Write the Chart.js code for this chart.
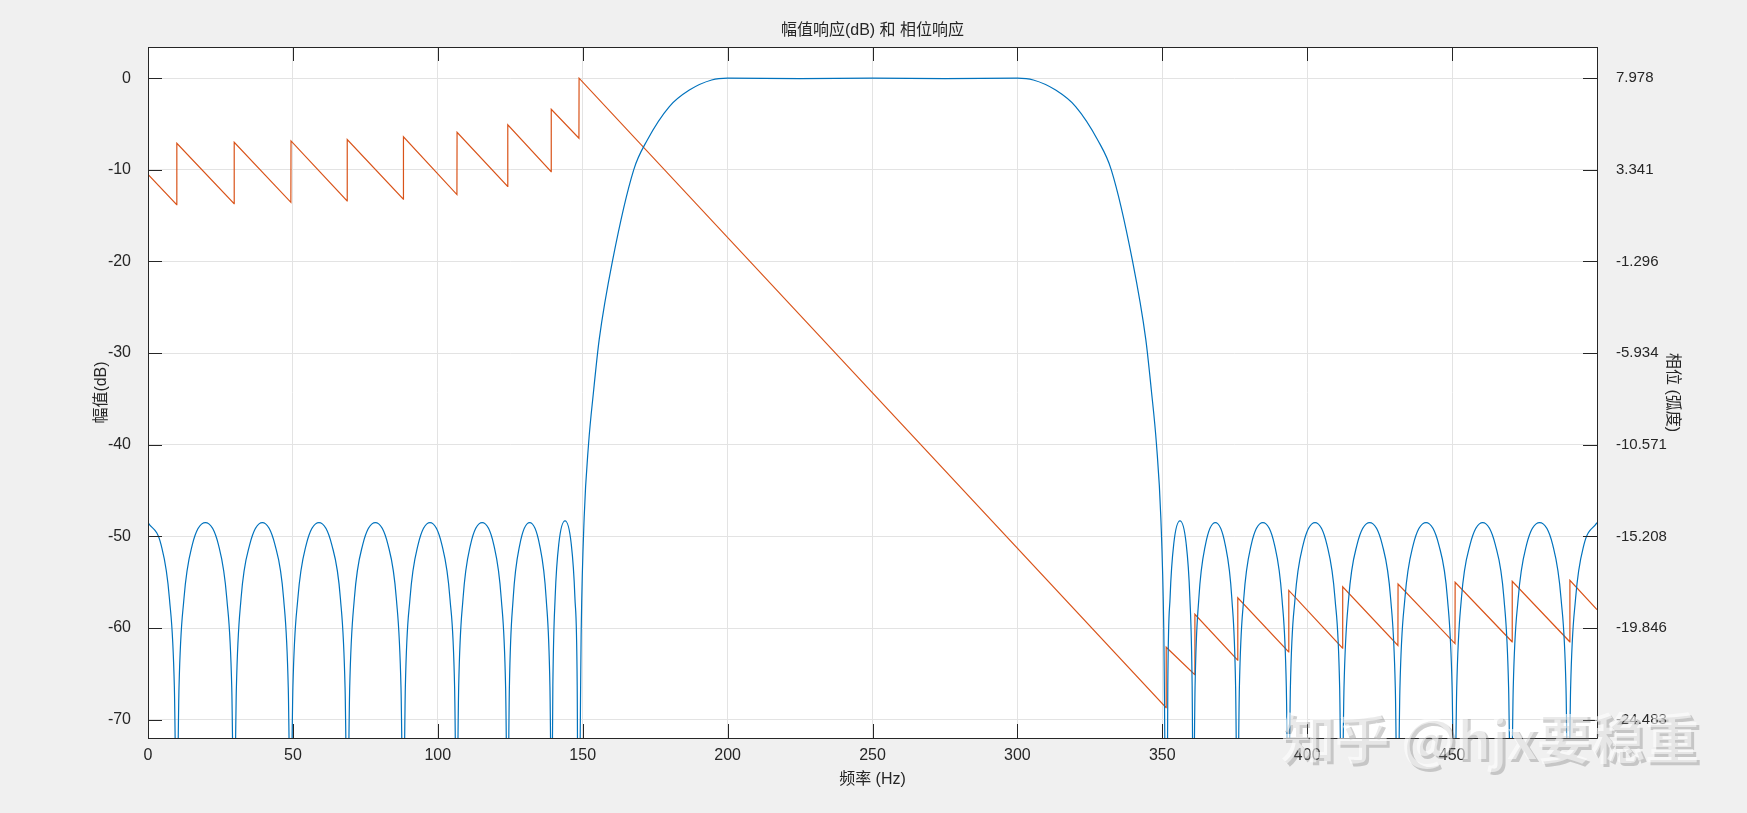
<!DOCTYPE html>
<html>
<head>
<meta charset="utf-8">
<script src="https://cdn.jsdelivr.net/npm/chart.js@4/dist/chart.umd.min.js"></script>
<style>
  html, body { margin: 0; padding: 0; background: #f0f0f0; }
</style>
</head>
<body>
<canvas id="myChart" width="1747" height="813"></canvas>
<script>
// magnitude response (dB); low values mark nulls (clipped)
const magFreq = [
  0, 4.5, 7.4, 9.1, 9.9,
  10.7, 12.4, 15.3, 19.8, 24.3, 27.2, 28.9, 29.7,
  30.5, 32.1, 35.1, 39.45, 43.8, 46.8, 48.4, 49.2,
  50.0, 51.7, 54.6, 59, 63.4, 66.4, 68.0, 68.8,
  69.6, 71.2, 74.1, 78.45, 82.8, 85.7, 87.3, 88.1,
  88.8, 90.4, 93.2, 97.3, 101.4, 104.2, 105.8, 106.5,
  107.2, 108.7, 111.3, 115.3, 119.3, 121.9, 123.4, 124.1,
  124.7, 126.0, 128.3, 131.7, 135.1, 137.4, 138.7, 139.3,
  139.7, 140.5, 141.8, 143.9, 146.0, 147.3, 148.1, 148.5,
  149.5, 150.5, 152, 153.8, 155.7, 160.3, 167.6, 172.2, 179.9, 186.8, 194.5, 200,
  225, 250, 275,
  300, 305.5, 313.2, 320.1, 327.8, 332.4, 339.7, 344.3, 346.2, 348, 349.5, 350.5, 351.5,
  351.9, 352.7, 354.0, 356.1, 358.2, 359.5, 360.3, 360.7,
  361.3, 362.6, 364.9, 368.3, 371.7, 374.0, 375.3, 375.9,
  376.6, 378.1, 380.7, 384.7, 388.7, 391.3, 392.8, 393.5,
  394.2, 395.8, 398.6, 402.7, 406.8, 409.6, 411.2, 411.9,
  412.7, 414.3, 417.2, 421.55, 425.9, 428.8, 430.4, 431.2,
  432.0, 433.7, 436.6, 441, 445.4, 448.4, 450.0, 450.8,
  451.6, 453.2, 456.2, 460.55, 464.9, 467.9, 469.5, 470.3,
  471.1, 472.8, 475.7, 480.2, 484.7, 487.6, 489.3, 490.1,
  490.9, 492.6, 495.5, 500
];
const magDb = [
  -48.5, -50.9, -56.8, -66.5, -82,
  -66.5, -56.8, -50.9, -48.5, -50.9, -56.8, -66.5, -82,
  -66.5, -56.8, -50.9, -48.5, -50.9, -56.8, -66.5, -82,
  -66.5, -56.8, -50.9, -48.5, -50.9, -56.8, -66.5, -82,
  -66.5, -56.8, -50.9, -48.5, -50.9, -56.8, -66.5, -82,
  -66.5, -56.8, -50.9, -48.5, -50.9, -56.8, -66.5, -82,
  -66.5, -56.8, -50.9, -48.5, -50.9, -56.8, -66.5, -82,
  -66.5, -56.8, -50.9, -48.5, -50.9, -56.8, -66.5, -82,
  -66.3, -56.6, -50.7, -48.3, -50.7, -56.6, -66.3, -90,
  -60, -48, -40, -34, -28.5, -19.9, -10, -6.8, -3.1, -1.3, -0.2, 0,
  -0.05, 0, -0.05,
  0, -0.2, -1.3, -3.1, -6.8, -10, -19.9, -28.5, -34, -40, -48, -60, -90,
  -66.3, -56.6, -50.7, -48.3, -50.7, -56.6, -66.3, -82,
  -66.5, -56.8, -50.9, -48.5, -50.9, -56.8, -66.5, -82,
  -66.5, -56.8, -50.9, -48.5, -50.9, -56.8, -66.5, -82,
  -66.5, -56.8, -50.9, -48.5, -50.9, -56.8, -66.5, -82,
  -66.5, -56.8, -50.9, -48.5, -50.9, -56.8, -66.5, -82,
  -66.5, -56.8, -50.9, -48.5, -50.9, -56.8, -66.5, -82,
  -66.5, -56.8, -50.9, -48.5, -50.9, -56.8, -66.5, -82,
  -66.5, -56.8, -50.9, -48.5, -50.9, -56.8, -66.5, -82,
  -66.5, -56.8, -50.9, -48.5
];

// phase response (rad)
const phaseFreq = [
  0, 9.9, 9.95, 29.7, 29.75, 49.3, 49.35, 68.7, 68.75, 88.1, 88.15,
  106.6, 106.65, 124.1, 124.15, 139.1, 139.15, 148.7, 148.75,
  351.3, 351.35, 361.2, 361.25, 376.0, 376.05, 393.6, 393.65, 412.2, 412.25,
  431.3, 431.35, 451.0, 451.05, 470.7, 470.75, 490.6, 490.65, 500
];
const phaseRad = [
  3.109, 1.578, 4.685, 1.625, 4.732, 1.694, 4.801, 1.764, 4.871, 1.857, 5.010,
  2.088, 5.242, 2.506, 5.613, 3.248, 6.401, 4.941, 7.978,
  -23.881, -20.820, -22.211, -19.151, -21.470, -18.316, -21.052, -17.945, -20.867, -17.760,
  -20.728, -17.621, -20.635, -17.528, -20.542, -17.481, -20.542, -17.435, -18.919
];

const xTicks = [0, 50, 100, 150, 200, 250, 300, 350, 400, 450];
const dbTicks = [-70, -60, -50, -40, -30, -20, -10, 0];
const radTicks = [-24.483, -19.846, -15.208, -10.571, -5.934, -1.296, 3.341, 7.978];

const FONT = 'Arial, "Liberation Sans", "Noto Sans CJK SC", sans-serif';
const TICK_FONT = { family: FONT, size: 16 };

const matlabFrame = {
  id: 'matlabFrame',
  beforeDraw(chart) {
    const { ctx, chartArea: a } = chart;
    ctx.save();
    ctx.fillStyle = '#ffffff';
    ctx.fillRect(a.left, a.top, a.right - a.left, a.bottom - a.top);
    ctx.restore();
  },
  afterDraw(chart) {
    const { ctx, chartArea: a, scales } = chart;
    ctx.save();
    ctx.strokeStyle = '#262626';
    ctx.lineWidth = 1;
    ctx.strokeRect(a.left + 0.5, a.top + 0.5, a.right - a.left, a.bottom - a.top);
    ctx.beginPath();
    xTicks.forEach(v => {
      const px = Math.round(scales.x.getPixelForValue(v)) + 0.5;
      ctx.moveTo(px, a.bottom); ctx.lineTo(px, a.bottom - 14);
      ctx.moveTo(px, a.top); ctx.lineTo(px, a.top + 14);
    });
    dbTicks.forEach(v => {
      const py = Math.round(scales.y.getPixelForValue(v)) + 0.5;
      ctx.moveTo(a.left, py); ctx.lineTo(a.left + 14, py);
    });
    radTicks.forEach(v => {
      const py = Math.round(scales.y2.getPixelForValue(v)) + 0.5;
      ctx.moveTo(a.right, py); ctx.lineTo(a.right - 14, py);
    });
    ctx.stroke();

    ctx.fillStyle = '#262626';
    ctx.textAlign = 'center';
    ctx.textBaseline = 'middle';
    ctx.font = '16px ' + FONT;
    ctx.fillText('幅值响应(dB) 和 相位响应', (a.left + a.right) / 2, 31);
    ctx.fillText('频率 (Hz)', (a.left + a.right) / 2, 780);
    ctx.save();
    ctx.translate(102, (a.top + a.bottom) / 2);
    ctx.rotate(-Math.PI / 2);
    ctx.fillText('幅值(dB)', 0, 0);
    ctx.restore();
    ctx.save();
    ctx.translate(1672, (a.top + a.bottom) / 2);
    ctx.rotate(Math.PI / 2);
    ctx.fillText('相位 (弧度)', 0, 0);
    ctx.restore();

    // watermark
    ctx.font = 'bold 54px "Noto Sans CJK SC", sans-serif';
    ctx.textAlign = 'right';
    ctx.fillStyle = 'rgba(120,120,120,0.35)';
    ctx.fillText('知乎 @hjx要稳重', 1702, 741);
    ctx.fillStyle = 'rgba(255,255,255,0.55)';
    ctx.fillText('知乎 @hjx要稳重', 1699, 738);
    ctx.restore();
  }
};

const ctx = document.getElementById('myChart');
new Chart(ctx, {
  type: 'line',
  data: {
    datasets: [{
      label: '幅值',
      data: magFreq.map((f, i) => ({ x: f, y: magDb[i] })),
      borderColor: '#0072BD',
      borderWidth: 1.2,
      pointRadius: 0,
      cubicInterpolationMode: 'monotone',
      yAxisID: 'y'
    }, {
      label: '相位',
      data: phaseFreq.map((f, i) => ({ x: f, y: phaseRad[i] })),
      borderColor: '#D95319',
      borderWidth: 1.2,
      pointRadius: 0,
      tension: 0,
      yAxisID: 'y2'
    }]
  },
  options: {
    responsive: false,
    animation: false,
    devicePixelRatio: 1,
    layout: { padding: { top: 47, left: 0, right: 0, bottom: 0 } },
    plugins: { legend: { display: false }, tooltip: { enabled: false } },
    scales: {
      x: {
        type: 'linear', min: 0, max: 500,
        afterBuildTicks: s => { s.ticks = xTicks.map(v => ({ value: v })); },
        afterFit: s => { s.height = 75; },
        grid: { color: '#e3e3e3', drawTicks: false },
        border: { display: false },
        ticks: { color: '#262626', font: TICK_FONT, padding: 8, maxRotation: 0 }
      },
      y: {
        position: 'left', min: -72, max: 3.4,
        afterBuildTicks: s => { s.ticks = dbTicks.map(v => ({ value: v })); },
        afterFit: s => { s.width = 148; },
        grid: { color: '#e3e3e3', drawTicks: false },
        border: { display: false },
        ticks: { color: '#262626', font: TICK_FONT, padding: 17 }
      },
      y2: {
        position: 'right', min: -25.411, max: 9.555,
        afterBuildTicks: s => { s.ticks = radTicks.map(v => ({ value: v })); },
        afterFit: s => { s.width = 150; },
        grid: { display: false },
        border: { display: false },
        ticks: { color: '#262626', font: { family: FONT, size: 15 }, padding: 11, callback: v => v.toFixed(3) }
      }
    }
  },
  plugins: [matlabFrame]
});
</script>
</body>
</html>
